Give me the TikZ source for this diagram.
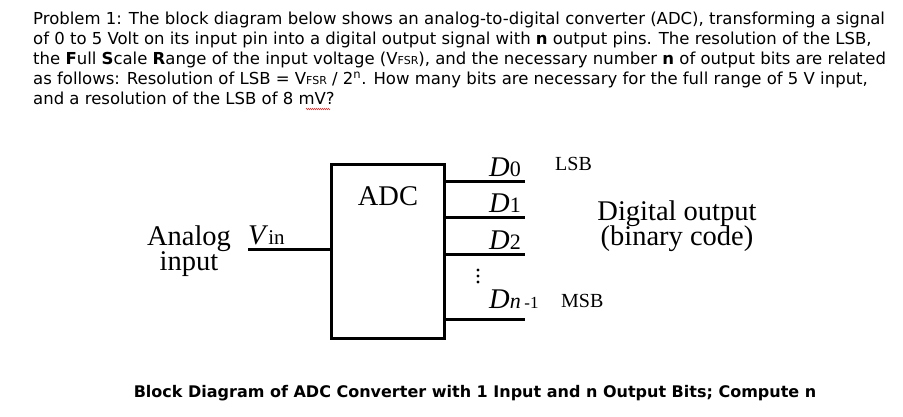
\documentclass[tikz,border=0pt]{standalone}
\usepackage{fontspec}
\usetikzlibrary{decorations.pathmorphing}
\setmainfont{DejaVu Sans}
\newfontfamily\tms{Liberation Serif}
\begin{document}
\begin{tikzpicture}[x=1pt,y=-1pt,
  para/.style={anchor=base west,inner sep=0pt,font=\fontsize{16.5}{18}\selectfont},
  lab/.style={inner sep=0pt,font=\tms\fontsize{28.5}{30}\selectfont},
  small/.style={inner sep=0pt,font=\tms\fontsize{20}{22}\selectfont},
  wire/.style={line width=3pt}]
\useasboundingbox (0,0) rectangle (903,417);
\node[para] (l1) at (33,25) {Problem 1: The block diagram below shows an analog-to-digital converter (ADC), transforming a signal};
\node[para] (l2) at (33,45) {of 0 to 5 Volt on its input pin into a digital output signal with \textbf{n} output pins. The resolution of the LSB,};
\node[para] (l3) at (33,65) {the \textbf{F}ull \textbf{S}cale \textbf{R}ange of the input voltage (V{\fontsize{11}{11}\selectfont FSR}), and the necessary number \textbf{n} of output bits are related};
\node[para] (l4) at (33,85) {as follows: Resolution of LSB = V{\fontsize{11}{11}\selectfont FSR} / 2\textsuperscript{n}. How many bits are necessary for the full range of 5 V input,};
\node[para] (l5) at (33,105) {and a resolution of the LSB of 8 mV?};
\draw[red,decorate,decoration={zigzag,amplitude=0.7pt,segment length=2pt}] (306,109) -- (330,109);
\draw[line width=3pt] (331,165) rectangle (444,338);
\node[lab] (adc) at (388,196) {ADC};
\coordinate (vin0) at (248,249);
\coordinate (vin1) at (331,249);
\draw[wire] (vin0) -- (vin1);
\node[lab,anchor=base west] (vl) at (248,244) {\textit{V}\fontsize{21}{21}\selectfont in};
\node[lab,align=center] (ai) at (189,251) {Analog\\[-5pt]input};
\foreach \y/\n/\t in {182/d0/0,218/d1/1,254/d2/2}{
  \coordinate (\n a) at (444,\y); \coordinate (\n b) at (525,\y);
  \draw[wire] (\n a) -- (\n b);
  \node[lab,anchor=base west] at (489,\y-5) {\textit{D}\fontsize{22}{22}\selectfont\t};
}
\coordinate (dna) at (444,319); \coordinate (dnb) at (525,319);
\draw[wire] (dna) -- (dnb);
\node[lab,anchor=base west] (dn) at (489,308) {\textit{D}\fontsize{22}{22}\selectfont\textit{n}\,\fontsize{17}{17}\selectfont-1};
\fill (478,270) circle (1.6pt) (478,276) circle (1.6pt) (478,282) circle (1.6pt);
\node[small,anchor=base west] (lsb) at (555,171) {LSB};
\node[small,anchor=base west] (msb) at (561,307) {MSB};
\node[lab,align=center] (dig) at (677,226) {Digital output\\[-5pt](binary code)};
\node[inner sep=0pt,font=\bfseries\fontsize{16}{18}\selectfont] (cap) at (475,393) {Block Diagram of ADC Converter with 1 Input and n Output Bits; Compute n};
\end{tikzpicture}
\end{document}
